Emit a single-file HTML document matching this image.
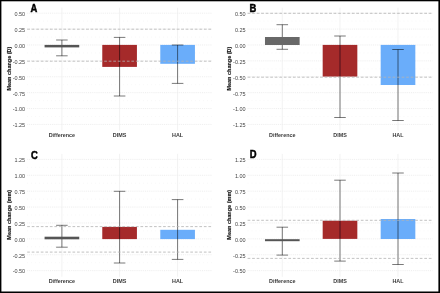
<!DOCTYPE html>
<html><head><meta charset="utf-8">
<style>
html,body{margin:0;padding:0;background:#fff;}
body{width:440px;height:293px;overflow:hidden;}
svg{display:block;will-change:transform;font-family:"Liberation Sans",sans-serif;}
.gmaj{stroke:#eaeaea;stroke-width:0.8;stroke-dasharray:1 0.9;}
.gv{stroke:#ededed;stroke-width:0.7;}
.gmin{stroke:#f1f1f1;stroke-width:0.6;stroke-dasharray:0.8 3.2;}
.err{stroke:#000;stroke-opacity:0.52;stroke-width:1.0;fill:none;}
.dash{stroke:#b3b3b3;stroke-width:0.8;stroke-dasharray:2.7 1.83;}
.yt{font-size:5.5px;fill:#444;text-anchor:end;}
.xt{font-size:5.4px;font-weight:bold;fill:#3a3a3a;text-anchor:middle;}
.yl{font-size:5.5px;font-weight:bold;fill:#111;stroke:#111;stroke-width:0.12;text-anchor:middle;}
.let{font-size:9.7px;font-weight:bold;fill:#000;stroke:#000;stroke-width:0.45;}
</style></head><body>
<svg width="440" height="293" viewBox="0 0 440 293">
<defs><filter id="bl" x="0" y="0" width="440" height="293" filterUnits="userSpaceOnUse"><feGaussianBlur stdDeviation="0.45"/></filter></defs>
<g filter="url(#bl)">
<rect x="0" y="0" width="440" height="293" fill="#fff"/>
<line x1="27.20" x2="212.00" y1="13.20" y2="13.20" class="gmaj"/>
<line x1="27.20" x2="212.00" y1="21.14" y2="21.14" class="gmin"/>
<line x1="27.20" x2="212.00" y1="29.09" y2="29.09" class="gmaj"/>
<line x1="27.20" x2="212.00" y1="37.03" y2="37.03" class="gmin"/>
<line x1="27.20" x2="212.00" y1="44.98" y2="44.98" class="gmaj"/>
<line x1="27.20" x2="212.00" y1="52.93" y2="52.93" class="gmin"/>
<line x1="27.20" x2="212.00" y1="60.87" y2="60.87" class="gmaj"/>
<line x1="27.20" x2="212.00" y1="68.81" y2="68.81" class="gmin"/>
<line x1="27.20" x2="212.00" y1="76.76" y2="76.76" class="gmaj"/>
<line x1="27.20" x2="212.00" y1="84.71" y2="84.71" class="gmin"/>
<line x1="27.20" x2="212.00" y1="92.65" y2="92.65" class="gmaj"/>
<line x1="27.20" x2="212.00" y1="100.59" y2="100.59" class="gmin"/>
<line x1="27.20" x2="212.00" y1="108.54" y2="108.54" class="gmaj"/>
<line x1="27.20" x2="212.00" y1="116.49" y2="116.49" class="gmin"/>
<line x1="27.20" x2="212.00" y1="124.43" y2="124.43" class="gmaj"/>
<line x1="61.90" x2="61.90" y1="7.70" y2="130.50" class="gv"/>
<line x1="119.60" x2="119.60" y1="7.70" y2="130.50" class="gv"/>
<line x1="177.60" x2="177.60" y1="7.70" y2="130.50" class="gv"/>
<rect x="102.27" y="44.90" width="34.65" height="22.00" fill="#a52a2c"/>
<rect x="160.28" y="44.90" width="34.65" height="18.90" fill="#6aadfa"/>
<path d="M56.12 40.00H67.67M61.90 40.00V55.80M56.12 55.80H67.67" class="err"/>
<path d="M113.82 37.40H125.38M119.60 37.40V96.00M113.82 96.00H125.38" class="err"/>
<path d="M171.82 45.00H183.38M177.60 45.00V83.40M171.82 83.40H183.38" class="err"/>
<rect x="44.58" y="44.90" width="34.65" height="2.50" fill="#555555"/>
<line x1="27.20" x2="212.00" y1="29.20" y2="29.20" class="dash"/>
<line x1="27.20" x2="212.00" y1="61.20" y2="61.20" class="dash"/>
<text x="25.20" y="16.05" class="yt">0.50</text>
<text x="25.20" y="31.94" class="yt">0.25</text>
<text x="25.20" y="47.83" class="yt">0.00</text>
<text x="25.20" y="63.72" class="yt">-0.25</text>
<text x="25.20" y="79.61" class="yt">-0.50</text>
<text x="25.20" y="95.50" class="yt">-0.75</text>
<text x="25.20" y="111.39" class="yt">-1.00</text>
<text x="25.20" y="127.28" class="yt">-1.25</text>
<text x="61.90" y="136.80" class="xt">Difference</text>
<text x="119.60" y="136.80" class="xt">DIMS</text>
<text x="177.60" y="136.80" class="xt">HAL</text>
<text transform="translate(10.90,68.60) rotate(-90)" class="yl">Mean change (D)</text>
<text transform="translate(30.40,11.85) scale(0.97,1.08)" class="let">A</text>
<line x1="247.60" x2="432.40" y1="13.20" y2="13.20" class="gmaj"/>
<line x1="247.60" x2="432.40" y1="21.14" y2="21.14" class="gmin"/>
<line x1="247.60" x2="432.40" y1="29.09" y2="29.09" class="gmaj"/>
<line x1="247.60" x2="432.40" y1="37.03" y2="37.03" class="gmin"/>
<line x1="247.60" x2="432.40" y1="44.98" y2="44.98" class="gmaj"/>
<line x1="247.60" x2="432.40" y1="52.93" y2="52.93" class="gmin"/>
<line x1="247.60" x2="432.40" y1="60.87" y2="60.87" class="gmaj"/>
<line x1="247.60" x2="432.40" y1="68.81" y2="68.81" class="gmin"/>
<line x1="247.60" x2="432.40" y1="76.76" y2="76.76" class="gmaj"/>
<line x1="247.60" x2="432.40" y1="84.71" y2="84.71" class="gmin"/>
<line x1="247.60" x2="432.40" y1="92.65" y2="92.65" class="gmaj"/>
<line x1="247.60" x2="432.40" y1="100.59" y2="100.59" class="gmin"/>
<line x1="247.60" x2="432.40" y1="108.54" y2="108.54" class="gmaj"/>
<line x1="247.60" x2="432.40" y1="116.49" y2="116.49" class="gmin"/>
<line x1="247.60" x2="432.40" y1="124.43" y2="124.43" class="gmaj"/>
<line x1="282.30" x2="282.30" y1="7.70" y2="130.50" class="gv"/>
<line x1="340.00" x2="340.00" y1="7.70" y2="130.50" class="gv"/>
<line x1="398.00" x2="398.00" y1="7.70" y2="130.50" class="gv"/>
<rect x="322.68" y="44.90" width="34.65" height="31.70" fill="#a52a2c"/>
<rect x="380.68" y="44.90" width="34.65" height="40.10" fill="#6aadfa"/>
<path d="M276.53 24.70H288.07M282.30 24.70V49.30M276.53 49.30H288.07" class="err"/>
<path d="M334.23 36.00H345.77M340.00 36.00V117.50M334.23 117.50H345.77" class="err"/>
<path d="M392.23 49.50H403.77M398.00 49.50V120.50M392.23 120.50H403.77" class="err"/>
<rect x="264.98" y="37.00" width="34.65" height="8.00" fill="#676767"/>
<line x1="247.60" x2="432.40" y1="13.30" y2="13.30" class="dash"/>
<line x1="247.60" x2="432.40" y1="77.20" y2="77.20" class="dash"/>
<text x="245.60" y="16.05" class="yt">0.50</text>
<text x="245.60" y="31.94" class="yt">0.25</text>
<text x="245.60" y="47.83" class="yt">0.00</text>
<text x="245.60" y="63.72" class="yt">-0.25</text>
<text x="245.60" y="79.61" class="yt">-0.50</text>
<text x="245.60" y="95.50" class="yt">-0.75</text>
<text x="245.60" y="111.39" class="yt">-1.00</text>
<text x="245.60" y="127.28" class="yt">-1.25</text>
<text x="282.30" y="136.80" class="xt">Difference</text>
<text x="340.00" y="136.80" class="xt">DIMS</text>
<text x="398.00" y="136.80" class="xt">HAL</text>
<text transform="translate(231.30,68.60) rotate(-90)" class="yl">Mean change (D)</text>
<text transform="translate(249.50,11.85) scale(0.97,1.08)" class="let">B</text>
<line x1="27.20" x2="212.00" y1="159.40" y2="159.40" class="gmaj"/>
<line x1="27.20" x2="212.00" y1="167.34" y2="167.34" class="gmin"/>
<line x1="27.20" x2="212.00" y1="175.29" y2="175.29" class="gmaj"/>
<line x1="27.20" x2="212.00" y1="183.23" y2="183.23" class="gmin"/>
<line x1="27.20" x2="212.00" y1="191.18" y2="191.18" class="gmaj"/>
<line x1="27.20" x2="212.00" y1="199.12" y2="199.12" class="gmin"/>
<line x1="27.20" x2="212.00" y1="207.07" y2="207.07" class="gmaj"/>
<line x1="27.20" x2="212.00" y1="215.01" y2="215.01" class="gmin"/>
<line x1="27.20" x2="212.00" y1="222.96" y2="222.96" class="gmaj"/>
<line x1="27.20" x2="212.00" y1="230.90" y2="230.90" class="gmin"/>
<line x1="27.20" x2="212.00" y1="238.85" y2="238.85" class="gmaj"/>
<line x1="27.20" x2="212.00" y1="246.79" y2="246.79" class="gmin"/>
<line x1="27.20" x2="212.00" y1="254.74" y2="254.74" class="gmaj"/>
<line x1="27.20" x2="212.00" y1="262.69" y2="262.69" class="gmin"/>
<line x1="27.20" x2="212.00" y1="270.63" y2="270.63" class="gmaj"/>
<line x1="61.90" x2="61.90" y1="153.90" y2="276.70" class="gv"/>
<line x1="119.60" x2="119.60" y1="153.90" y2="276.70" class="gv"/>
<line x1="177.60" x2="177.60" y1="153.90" y2="276.70" class="gv"/>
<rect x="102.27" y="226.90" width="34.65" height="12.20" fill="#a52a2c"/>
<rect x="160.28" y="229.80" width="34.65" height="9.30" fill="#6aadfa"/>
<path d="M56.12 225.30H67.67M61.90 225.30V247.20M56.12 247.20H67.67" class="err"/>
<path d="M113.82 191.30H125.38M119.60 191.30V263.00M113.82 263.00H125.38" class="err"/>
<path d="M171.82 199.60H183.38M177.60 199.60V259.40M171.82 259.40H183.38" class="err"/>
<rect x="44.58" y="236.70" width="34.65" height="2.60" fill="#555555"/>
<line x1="27.20" x2="212.00" y1="226.60" y2="226.60" class="dash"/>
<line x1="27.20" x2="212.00" y1="252.10" y2="252.10" class="dash"/>
<text x="25.20" y="162.25" class="yt">1.25</text>
<text x="25.20" y="178.14" class="yt">1.00</text>
<text x="25.20" y="194.03" class="yt">0.75</text>
<text x="25.20" y="209.92" class="yt">0.50</text>
<text x="25.20" y="225.81" class="yt">0.25</text>
<text x="25.20" y="241.70" class="yt">0.00</text>
<text x="25.20" y="257.59" class="yt">-0.25</text>
<text x="25.20" y="273.48" class="yt">-0.50</text>
<text x="61.90" y="283.00" class="xt">Difference</text>
<text x="119.60" y="283.00" class="xt">DIMS</text>
<text x="177.60" y="283.00" class="xt">HAL</text>
<text transform="translate(10.90,214.80) rotate(-90)" class="yl">Mean change (mm)</text>
<text transform="translate(31.00,158.60) scale(0.97,1.08)" class="let">C</text>
<line x1="247.60" x2="432.40" y1="159.40" y2="159.40" class="gmaj"/>
<line x1="247.60" x2="432.40" y1="167.34" y2="167.34" class="gmin"/>
<line x1="247.60" x2="432.40" y1="175.29" y2="175.29" class="gmaj"/>
<line x1="247.60" x2="432.40" y1="183.23" y2="183.23" class="gmin"/>
<line x1="247.60" x2="432.40" y1="191.18" y2="191.18" class="gmaj"/>
<line x1="247.60" x2="432.40" y1="199.12" y2="199.12" class="gmin"/>
<line x1="247.60" x2="432.40" y1="207.07" y2="207.07" class="gmaj"/>
<line x1="247.60" x2="432.40" y1="215.01" y2="215.01" class="gmin"/>
<line x1="247.60" x2="432.40" y1="222.96" y2="222.96" class="gmaj"/>
<line x1="247.60" x2="432.40" y1="230.90" y2="230.90" class="gmin"/>
<line x1="247.60" x2="432.40" y1="238.85" y2="238.85" class="gmaj"/>
<line x1="247.60" x2="432.40" y1="246.79" y2="246.79" class="gmin"/>
<line x1="247.60" x2="432.40" y1="254.74" y2="254.74" class="gmaj"/>
<line x1="247.60" x2="432.40" y1="262.69" y2="262.69" class="gmin"/>
<line x1="247.60" x2="432.40" y1="270.63" y2="270.63" class="gmaj"/>
<line x1="282.30" x2="282.30" y1="153.90" y2="276.70" class="gv"/>
<line x1="340.00" x2="340.00" y1="153.90" y2="276.70" class="gv"/>
<line x1="398.00" x2="398.00" y1="153.90" y2="276.70" class="gv"/>
<rect x="322.68" y="220.70" width="34.65" height="18.20" fill="#a52a2c"/>
<rect x="380.68" y="219.00" width="34.65" height="20.00" fill="#6aadfa"/>
<path d="M276.53 227.20H288.07M282.30 227.20V255.10M276.53 255.10H288.07" class="err"/>
<path d="M334.23 180.20H345.77M340.00 180.20V261.10M334.23 261.10H345.77" class="err"/>
<path d="M392.23 173.00H403.77M398.00 173.00V264.50M392.23 264.50H403.77" class="err"/>
<rect x="264.98" y="239.20" width="34.65" height="2.00" fill="#555555"/>
<line x1="247.60" x2="432.40" y1="220.30" y2="220.30" class="dash"/>
<line x1="247.60" x2="432.40" y1="258.40" y2="258.40" class="dash"/>
<text x="245.60" y="162.25" class="yt">1.25</text>
<text x="245.60" y="178.14" class="yt">1.00</text>
<text x="245.60" y="194.03" class="yt">0.75</text>
<text x="245.60" y="209.92" class="yt">0.50</text>
<text x="245.60" y="225.81" class="yt">0.25</text>
<text x="245.60" y="241.70" class="yt">0.00</text>
<text x="245.60" y="257.59" class="yt">-0.25</text>
<text x="245.60" y="273.48" class="yt">-0.50</text>
<text x="282.30" y="283.00" class="xt">Difference</text>
<text x="340.00" y="283.00" class="xt">DIMS</text>
<text x="398.00" y="283.00" class="xt">HAL</text>
<text transform="translate(231.30,214.80) rotate(-90)" class="yl">Mean change (mm)</text>
<text transform="translate(249.70,158.20) scale(0.97,1.08)" class="let">D</text>
</g>
<rect x="0" y="0" width="440" height="1.3" fill="#000"/><rect x="0" y="0" width="1.4" height="293" fill="#000"/><rect x="438.4" y="0" width="1.6" height="293" fill="#000"/><rect x="0" y="291.5" width="440" height="1.5" fill="#000"/>
</svg>
</body></html>
